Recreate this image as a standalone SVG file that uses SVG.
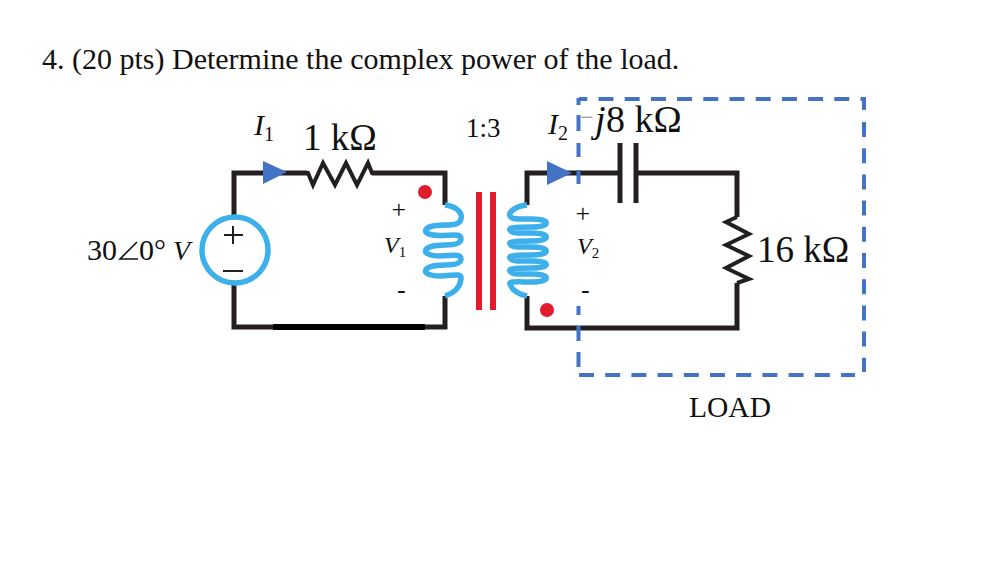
<svg xmlns="http://www.w3.org/2000/svg" width="983" height="575" viewBox="0 0 983 575">
<style>
text{font-family:"Liberation Serif","Times New Roman",serif;fill:#111}
.i{font-style:italic}
.n{font-style:normal}
.wire{fill:none;stroke:#231f20;stroke-width:5;stroke-linejoin:miter}
.thin{fill:none;stroke:#231f20;stroke-width:4}
.coil{fill:none;stroke:#3db0ec;stroke-width:5.5;stroke-linecap:butt}
.core{fill:#e21b2d}
.dot{fill:#e21b2d}
.arrow{fill:#4472c4}
.dash{fill:none;stroke:#4472c4;stroke-width:4}
</style>
<rect width="983" height="575" fill="#fff"/>
<text id="title" x="42" y="69" font-size="30">4. (20 pts) Determine the complex power of the load.</text>
<g id="connectors">
<path class="wire" d="M234,216V173H307"/>
<path class="thin" d="M305,173H308L313,185L323,163L335,185L346,163L357,185L368,163L372,173H375"/>
<path class="wire" d="M372,173H445V205"/>
<path class="wire" d="M234,285V327H445V296"/>
<path d="M273,327H425" stroke="#000" stroke-width="6" fill="none"/>
<path class="wire" d="M527,205V173H620"/>
<path class="wire" d="M636,173H737V217"/>
<path class="thin" d="M737,217L726,222L749,234L726,245L749,256L726,268L749,279L737,283"/>
<path class="wire" d="M737,283V328H527V296"/>
</g>
<g id="source">
<circle cx="235" cy="250" r="33" fill="#fff" stroke="#3db0ec" stroke-width="5.5"/>
<path d="M233,226V244M224,235H243M223,271H243" stroke="#231f20" stroke-width="2" fill="none"/>
<text x="87" y="260" font-size="30">30</text>
<path d="M137,242L120,259H138" fill="none" stroke="#111" stroke-width="1.6"/>
<text x="139" y="260" font-size="30">0°</text>
<text class="i" x="173" y="260" font-size="28">V</text>
</g>
<g id="r1">
<text x="303" y="150" font-size="37">1 kΩ</text>
</g>
<g id="i1">
<polygon class="arrow" points="263,161 263,184 287,172"/>
<text class="i" x="254" y="135" font-size="30">I<tspan class="n" font-size="20" dy="6">1</tspan></text>
</g>
<g id="v1">
<text x="391.500" y="218" font-size="26">+</text>
<text class="i" x="384" y="253" font-size="24">V<tspan class="n" font-size="15" dy="4">1</tspan></text>
<text x="397" y="298" font-size="26">-</text>
</g>
<g id="transformer">
<circle class="dot" cx="425" cy="192" r="7"/>
<path class="coil" d="M445,205C455,206 463,212 461,219C460,224 455,225 445,225C420,225 420,235.500 440,235.500C452,235.500 461,233 461,239C461,243 456,245 445,245C420,245 420,256 440,256C452,256 461,253 461,259C461,263 456,265 445,265C420,265 420,276 440,276C452,276 462,272 461,279C460,288 454,293 445,296"/>
<rect class="core" x="476" y="192" width="6" height="118"/>
<rect class="core" x="490" y="192" width="6" height="118"/>
<path class="coil" d="M527,205C516,206 508,212 510,216C512,220 520,219 532,219C551,219 551,227 532,227C520,227 508,227 510,230C512,234 520,233 532,233C551,233 551,241 532,241C520,241 508,241 510,244C512,248 520,247 532,247C551,247 551,255 532,255C520,255 508,255 510,258C512,262 520,261 532,261C551,261 551,268 532,268C520,268 508,268 510,271C512,275 520,274 532,274C551,274 551,282 532,282C520,282 508,281 510,284C512,290 518,294 527,296"/>
<circle class="dot" cx="547" cy="310" r="7"/>
<text x="466" y="137" font-size="27">1:3</text>
</g>
<g id="i2">
<polygon class="arrow" points="547,161 547,185 572,173"/>
<text class="i" x="548" y="134" font-size="30">I<tspan class="n" font-size="20" dy="6">2</tspan></text>
</g>
<g id="v2">
<text x="575.500" y="222" font-size="26">+</text>
<text class="i" x="577" y="254" font-size="24">V<tspan class="n" font-size="15" dy="4">2</tspan></text>
<text x="581" y="298" font-size="26">-</text>
</g>
<g id="capacitor">
<path d="M620,143V203M636,143V203" stroke="#231f20" stroke-width="5" fill="none"/>
<text y="132" font-size="38"><tspan x="580" y="124.500" font-size="24" fill="#8a8a8a">−</tspan><tspan class="i" x="595" y="132">j</tspan><tspan x="606" y="132">8 kΩ</tspan></text>
</g>
<g id="load-resistor">
<text x="757" y="262" font-size="37">16 kΩ</text>
</g>
<g id="load">
<path class="dash" d="M579,99H864" stroke-dasharray="15 11.200" stroke-dashoffset="6.700"/>
<path class="dash" d="M864,97V372" stroke-dasharray="13 12 15 11.200 15 11.200 15 11.200 15 11.200 15 11.200 15 11.200 15 11.200 15 11.200 15 11.200 15 11.200 15 11.200"/>
<path class="dash" d="M579,375H855" stroke-dasharray="15 11.200"/>
<path class="dash" d="M578.500,98V105M578.500,115V131M578.500,143V157M578.500,170V184M578.500,306V315M578.500,326V341M578.500,352V367"/>
<text x="689" y="417" font-size="29.500">LOAD</text>
</g>
</svg>
